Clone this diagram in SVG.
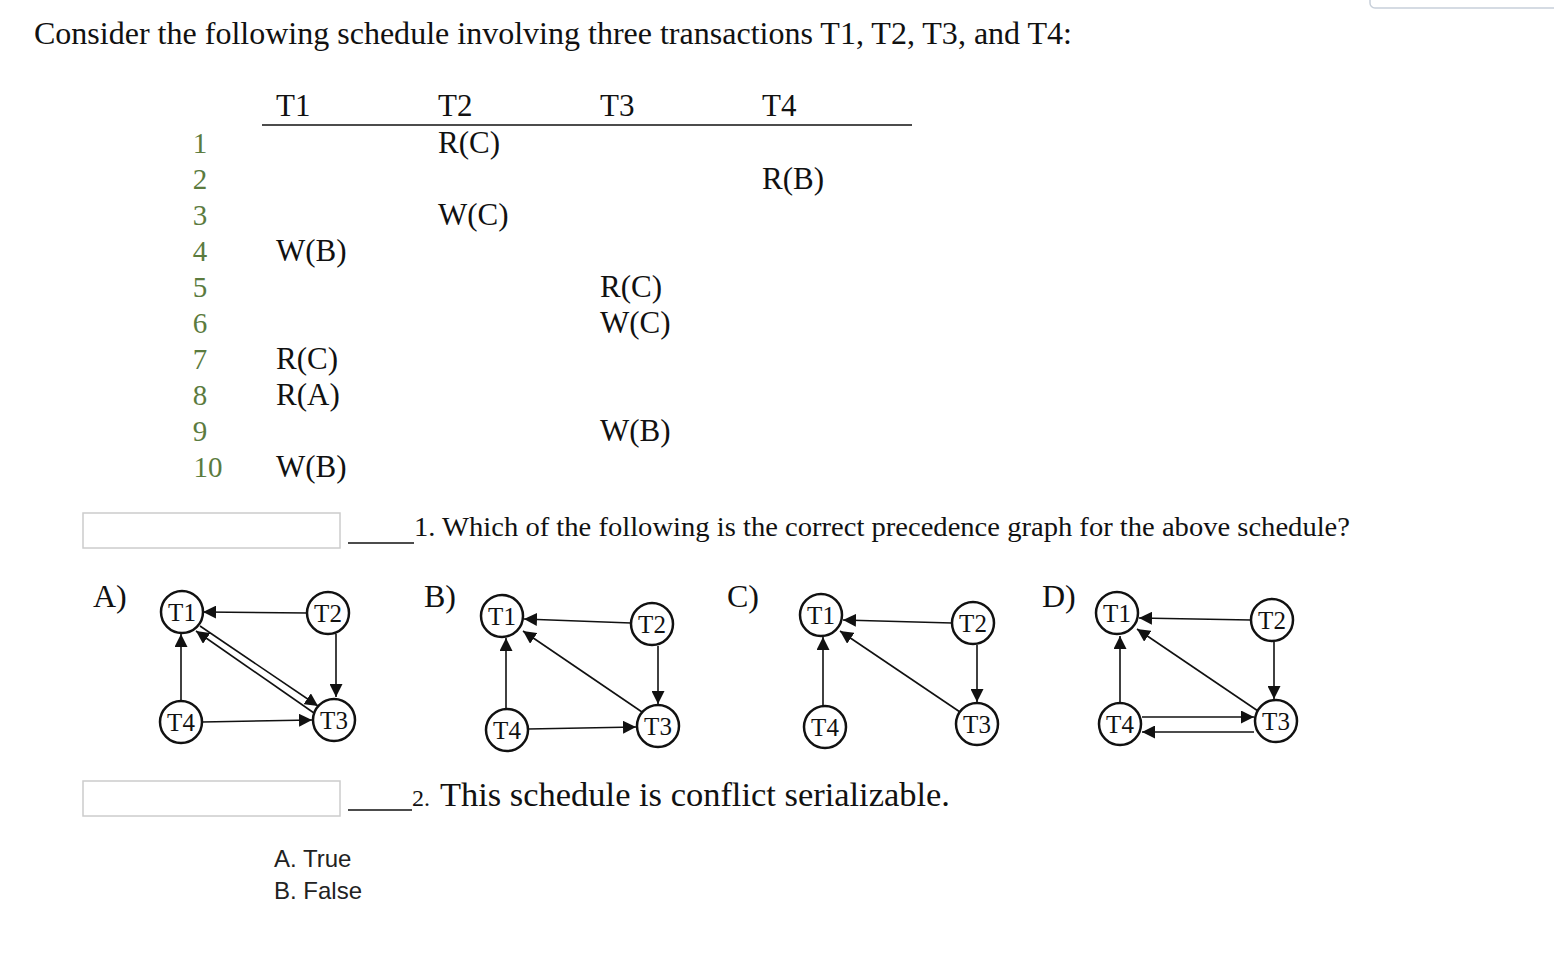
<svg xmlns="http://www.w3.org/2000/svg" width="1554" height="960" viewBox="0 0 1554 960">
<style>
.t{font-family:"Liberation Serif",serif;fill:#111}
.h{font-size:31px}
.n{font-size:29px;fill:#5b7b3e;text-anchor:middle}
.c{fill:#fff;stroke:#111;stroke-width:2.5}
.cl{font-family:"Liberation Serif",serif;font-size:25px;text-anchor:middle;fill:#111}
.e{stroke:#111;stroke-width:1.6;fill:none;marker-end:url(#ar2)}
.box{fill:#fff;stroke:#ccc;stroke-width:1.5}
</style>
<defs>
<marker id="ar2" viewBox="0 0 10 10" refX="10" refY="5" markerWidth="13" markerHeight="13" orient="auto" markerUnits="userSpaceOnUse"><path d="M0,0L10,5L0,10z" fill="#111"/></marker></defs>
<rect x="1370" y="-10" width="200" height="18" rx="5" fill="#fff" stroke="#c8d0da" stroke-width="1.5"/>
<text class="t" font-size="32" x="34" y="44" textLength="1038" lengthAdjust="spacingAndGlyphs">Consider the following schedule involving three transactions T1, T2, T3, and T4:</text>
<g id="table">
<text class="t h" x="276" y="116">T1</text><text class="t h" x="438" y="116">T2</text><text class="t h" x="600" y="116">T3</text><text class="t h" x="762" y="116">T4</text>
<line x1="262" y1="125" x2="912" y2="125" stroke="#111" stroke-width="1.5"/>
<text class="t n" x="200" y="153">1</text><text class="t n" x="200" y="189">2</text><text class="t n" x="200" y="225">3</text><text class="t n" x="200" y="261">4</text><text class="t n" x="200" y="297">5</text><text class="t n" x="200" y="333">6</text><text class="t n" x="200" y="369">7</text><text class="t n" x="200" y="405">8</text><text class="t n" x="200" y="441">9</text><text class="t n" x="208" y="477">10</text>
<text class="t h" x="438" y="153">R(C)</text>
<text class="t h" x="762" y="189">R(B)</text>
<text class="t h" x="438" y="225">W(C)</text>
<text class="t h" x="276" y="261">W(B)</text>
<text class="t h" x="600" y="297">R(C)</text>
<text class="t h" x="600" y="333">W(C)</text>
<text class="t h" x="276" y="369">R(C)</text>
<text class="t h" x="276" y="405">R(A)</text>
<text class="t h" x="600" y="441">W(B)</text>
<text class="t h" x="276" y="477">W(B)</text>
</g>
<g id="q1">
<rect class="box" x="83" y="513" width="257" height="35"/>
<line x1="348" y1="543" x2="414" y2="543" stroke="#111" stroke-width="1.5"/>
<text class="t" x="414" y="536" font-size="28" textLength="936" lengthAdjust="spacingAndGlyphs">1. Which of the following is the correct precedence graph for the above schedule?</text>
</g>
<g id="connectors">
<line class="e" x1="308" y1="613" x2="203" y2="612"/>
<line class="e" x1="336" y1="634" x2="336" y2="697"/>
<line class="e" x1="181" y1="701" x2="181" y2="634"/>
<line class="e" x1="202" y1="722" x2="312" y2="720"/>
<line class="e" x1="200" y1="626" x2="318" y2="706"/>
<line class="e" x1="314" y1="713" x2="196" y2="631"/>
<line class="e" x1="631" y1="623" x2="524" y2="619"/>
<line class="e" x1="658" y1="646" x2="658" y2="704"/>
<line class="e" x1="506" y1="709" x2="506" y2="638"/>
<line class="e" x1="528" y1="729" x2="636" y2="727"/>
<line class="e" x1="642" y1="712" x2="523" y2="631"/>
<line class="e" x1="952" y1="623" x2="843" y2="620"/>
<line class="e" x1="977" y1="645" x2="977" y2="702"/>
<line class="e" x1="823" y1="706" x2="823" y2="637"/>
<line class="e" x1="960" y1="712" x2="840" y2="631"/>
<line class="e" x1="1251" y1="620" x2="1139" y2="618"/>
<line class="e" x1="1274" y1="642" x2="1274" y2="699"/>
<line class="e" x1="1120" y1="703" x2="1120" y2="636"/>
<line class="e" x1="1258" y1="711" x2="1137" y2="629"/>
<line class="e" x1="1142" y1="717" x2="1254" y2="717"/>
<line class="e" x1="1254" y1="732" x2="1142" y2="732"/>
</g>
<g id="graphA">
<text class="t" font-size="32" x="93" y="607">A)</text>
<circle class="c" cx="182" cy="612" r="21"/><text class="cl" x="182" y="621">T1</text>
<circle class="c" cx="328" cy="613" r="21"/><text class="cl" x="328" y="622">T2</text>
<circle class="c" cx="181" cy="722" r="21"/><text class="cl" x="181" y="731">T4</text>
<circle class="c" cx="334" cy="720" r="21"/><text class="cl" x="334" y="729">T3</text>
</g>
<g id="graphB">
<text class="t" font-size="32" x="424" y="607">B)</text>
<circle class="c" cx="502" cy="616" r="21"/><text class="cl" x="502" y="625">T1</text>
<circle class="c" cx="652" cy="624" r="21"/><text class="cl" x="652" y="633">T2</text>
<circle class="c" cx="507" cy="730" r="21"/><text class="cl" x="507" y="739">T4</text>
<circle class="c" cx="658" cy="726" r="21"/><text class="cl" x="658" y="735">T3</text>
</g>
<g id="graphC">
<text class="t" font-size="32" x="727" y="607">C)</text>
<circle class="c" cx="821" cy="615" r="21"/><text class="cl" x="821" y="624">T1</text>
<circle class="c" cx="973" cy="623" r="21"/><text class="cl" x="973" y="632">T2</text>
<circle class="c" cx="825" cy="727" r="21"/><text class="cl" x="825" y="736">T4</text>
<circle class="c" cx="977" cy="724" r="21"/><text class="cl" x="977" y="733">T3</text>
</g>
<g id="graphD">
<text class="t" font-size="32" x="1042" y="607">D)</text>
<circle class="c" cx="1117" cy="613" r="21"/><text class="cl" x="1117" y="622">T1</text>
<circle class="c" cx="1272" cy="620" r="21"/><text class="cl" x="1272" y="629">T2</text>
<circle class="c" cx="1120" cy="724" r="21"/><text class="cl" x="1120" y="733">T4</text>
<circle class="c" cx="1276" cy="721" r="21"/><text class="cl" x="1276" y="730">T3</text>
</g>
<g id="q2">
<rect class="box" x="83" y="781" width="257" height="35"/>
<line x1="348" y1="810" x2="412" y2="810" stroke="#111" stroke-width="1.5"/>
<text class="t" x="412" y="806" font-size="24">2. </text>
<text class="t" x="440" y="806" font-size="33" textLength="510" lengthAdjust="spacingAndGlyphs">This schedule is conflict serializable.</text>
<text x="274" y="867" font-family="Liberation Sans,sans-serif" font-size="24" fill="#222">A. True</text>
<text x="274" y="899" font-family="Liberation Sans,sans-serif" font-size="24" fill="#222">B. False</text>
</g>
</svg>
